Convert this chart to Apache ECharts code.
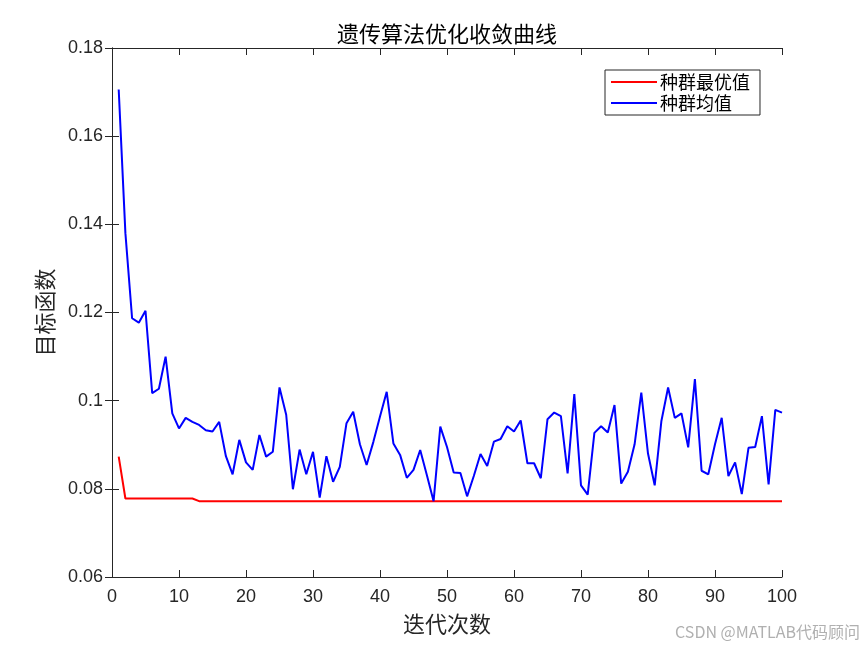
<!DOCTYPE html>
<html><head><meta charset="utf-8">
<script src="https://cdn.jsdelivr.net/npm/echarts@6/dist/echarts.min.js"></script>
<style>html,body{margin:0;padding:0;background:#fff}#c{width:865px;height:649px}</style>
</head><body><div id="c"></div>
<script>
const titleText = '遗传算法优化收敛曲线';
const xName = '迭代次数';
const yName = '目标函数';
const legendNames = ['种群最优值', '种群均值'];
const bestValues = [0.0873,0.0778,0.0778,0.0778,0.0778,0.0778,0.0778,0.0778,0.0778,0.0778,
0.0778,0.0778,0.0772,0.0772,0.0772,0.0772,0.0772,0.0772,0.0772,0.0772,
0.0772,0.0772,0.0772,0.0772,0.0772,0.0772,0.0772,0.0772,0.0772,0.0772,
0.0772,0.0772,0.0772,0.0772,0.0772,0.0772,0.0772,0.0772,0.0772,0.0772,
0.0772,0.0772,0.0772,0.0772,0.0772,0.0772,0.0772,0.0772,0.0772,0.0772,
0.0772,0.0772,0.0772,0.0772,0.0772,0.0772,0.0772,0.0772,0.0772,0.0772,
0.0772,0.0772,0.0772,0.0772,0.0772,0.0772,0.0772,0.0772,0.0772,0.0772,
0.0772,0.0772,0.0772,0.0772,0.0772,0.0772,0.0772,0.0772,0.0772,0.0772,
0.0772,0.0772,0.0772,0.0772,0.0772,0.0772,0.0772,0.0772,0.0772,0.0772,
0.0772,0.0772,0.0772,0.0772,0.0772,0.0772,0.0772,0.0772,0.0772,0.0772];
const meanValues = [0.1706,0.1380,0.1187,0.1177,0.1204,0.1017,0.1027,0.1100,0.0971,0.0937,
0.0961,0.0952,0.0945,0.0933,0.0930,0.0952,0.0874,0.0833,0.0911,0.0860,
0.0843,0.0922,0.0873,0.0884,0.1030,0.0968,0.0799,0.0889,0.0833,0.0884,
0.0780,0.0874,0.0816,0.0850,0.0949,0.0975,0.0901,0.0854,0.0906,0.0964,
0.1020,0.0903,0.0877,0.0825,0.0843,0.0888,0.0831,0.0772,0.0941,0.0895,
0.0837,0.0836,0.0783,0.0829,0.0879,0.0852,0.0907,0.0913,0.0942,0.0930,
0.0955,0.0858,0.0858,0.0824,0.0958,0.0973,0.0965,0.0835,0.1015,0.0808,
0.0787,0.0927,0.0942,0.0928,0.0990,0.0812,0.0839,0.0901,0.1018,0.0880,
0.0808,0.0954,0.1030,0.0961,0.0971,0.0894,0.1049,0.0841,0.0833,0.0901,
0.0961,0.0829,0.0860,0.0788,0.0893,0.0895,0.0965,0.0810,0.0979,0.0973];
const xMin = 0, xMax = 100, xStep = 10;
const yMin = 0.06, yMax = 0.18, yStep = 0.02;

const pairs = vals => vals.map((v, i) => [i + 1, v]);
const axisCol = '#262626';
const numFont = 'Liberation Sans, Arial, sans-serif';
const cjkFont = 'Noto Sans CJK SC, sans-serif';
const lineIcon = 'path://M0,0 L46,0 L46,2 L0,2 Z';

const chart = echarts.init(document.getElementById('c'), null, {renderer: 'canvas'});
const baseX = {
  type: 'value', min: xMin, max: xMax, interval: xStep,
  axisLine: {show: true, lineStyle: {color: axisCol, width: 1}},
  axisTick: {show: true, inside: true, length: 7, lineStyle: {color: axisCol}},
  splitLine: {show: false}
};
const baseY = {
  type: 'value', min: yMin, max: yMax, interval: yStep,
  axisLine: {show: true, lineStyle: {color: axisCol, width: 1}},
  axisTick: {show: true, inside: true, length: 7, lineStyle: {color: axisCol}},
  splitLine: {show: false}
};
chart.setOption({
  animation: false,
  backgroundColor: '#fff',
  title: {
    text: titleText, left: 442, top: 18, textAlign: 'center',
    textStyle: {fontFamily: cjkFont, fontSize: 22, fontWeight: 'normal', color: '#000'}
  },
  grid: {left: 112, top: 48, width: 670, height: 529, containLabel: false},
  legend: {
    orient: 'vertical', left: 605, top: 70,
    data: legendNames.map(n => ({name: n, icon: lineIcon})),
    itemWidth: 46, itemHeight: 2, itemGap: 1,
    padding: [2, 10, 2, 6],
    borderColor: '#262626', borderWidth: 1, backgroundColor: '#fff',
    textStyle: {fontFamily: cjkFont, fontSize: 18, color: '#000', padding: [0, 0, 0, -2], lineHeight: 20}
  },
  xAxis: [
    Object.assign({}, baseX, {
      position: 'bottom',
      name: xName, nameLocation: 'middle', nameGap: 36,
      nameTextStyle: {fontFamily: cjkFont, fontSize: 22, color: '#262626'},
      axisLabel: {show: true, margin: 11, fontFamily: numFont, fontSize: 18, color: '#262626', formatter: v => String(v)}
    }),
    Object.assign({}, baseX, {position: 'top', axisLabel: {show: false}})
  ],
  yAxis: [
    Object.assign({}, baseY, {
      position: 'left',
      name: yName, nameLocation: 'middle', nameGap: 56, nameRotate: 90,
      nameTextStyle: {fontFamily: cjkFont, fontSize: 22, color: '#262626'},
      axisLabel: {show: true, margin: 9, fontFamily: numFont, fontSize: 18, color: '#262626',
        formatter: v => String(parseFloat(v.toFixed(2)))}
    }),
    Object.assign({}, baseY, {position: 'right', axisLabel: {show: false}})
  ],
  series: [
    {name: legendNames[0], type: 'line', data: pairs(bestValues), symbol: 'none',
     lineStyle: {color: '#ff0000', width: 2}, itemStyle: {color: '#ff0000'}},
    {name: legendNames[1], type: 'line', data: pairs(meanValues), symbol: 'none',
     lineStyle: {color: '#0000ff', width: 2}, itemStyle: {color: '#0000ff'}}
  ],
  graphic: [{
    type: 'text', right: 5, top: 624,
    style: {text: 'CSDN @MATLAB代码顾问', fill: '#b0b0b0', font: '16px Noto Sans CJK SC, sans-serif'}
  }]
});
</script></body></html>
